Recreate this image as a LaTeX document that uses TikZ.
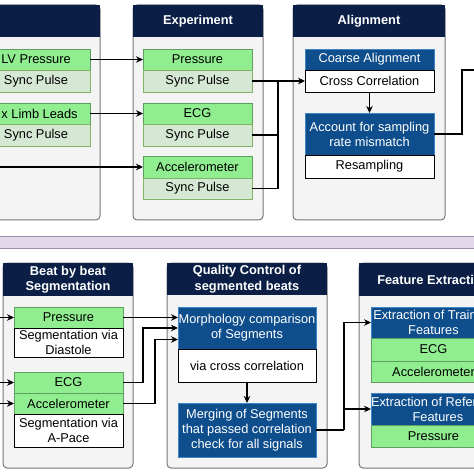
\documentclass[tikz,border=0pt]{standalone}
\usepackage{fontspec}
\setmainfont{Liberation Sans}
\usetikzlibrary{arrows.meta,calc}
\definecolor{navy}{HTML}{0A1E46}
\definecolor{bblue}{HTML}{0F4E8C}
\definecolor{bborder}{HTML}{3E86C6}
\definecolor{lgreen}{HTML}{90EE90}
\definecolor{dgreen}{HTML}{5E9E5E}
\definecolor{sgreen}{HTML}{D5E8D4}
\definecolor{sborder}{HTML}{82B366}
\definecolor{pfill}{HTML}{F4F4F4}
\definecolor{pborder}{HTML}{777777}
\definecolor{lav}{HTML}{E3D7EA}
\definecolor{lavb}{HTML}{A08CB0}
\tikzset{
  base/.style={inner sep=0pt, outer sep=0pt, align=center, anchor=north west,
    font=\fontsize{12.85pt}{15pt}\selectfont},
  panel/.style={base, draw=pborder, fill=pfill, line width=1bp, rounded corners=4bp},
  hdr/.style={base, fill=navy, text=white, font=\fontsize{12.85pt}{15.5pt}\selectfont\bfseries},
  gbox/.style={base, fill=lgreen, draw=dgreen, line width=0.8bp},
  sbox/.style={base, fill=sgreen, draw=sborder, line width=0.8bp},
  bbox/.style={base, fill=bblue, draw=bborder, line width=0.8bp, text=white},
  wbox/.style={base, fill=white, draw=black, line width=0.8bp},
  conn/.style={line width=1.1bp, draw=black},
  arr/.style={conn, -{Stealth[length=7bp,width=6.5bp]}},
}
% box: style, name, x1, y1, x2, y2, text
\newcommand{\bx}[7]{\node[#1, minimum width={(#5)*1bp-(#3)*1bp}, minimum height={(#6)*1bp-(#4)*1bp}] (#2) at (#3,#4) {#7};}
\begin{document}
\begin{tikzpicture}[x=1bp,y=-1bp]
\useasboundingbox (0,0) rectangle (474,474);
\clip (0,0) rectangle (474,474);
% ---------- top row ----------
\bx{panel}{p1}{-40}{5}{100}{220}{}
\bx{hdr}{h1}{-40}{5}{100}{37}{}
\bx{gbox}{lvp}{-18}{49}{90}{70}{LV Pressure}
\bx{sbox}{lvs}{-18}{70}{90}{92}{Sync Pulse}
\bx{gbox}{limb}{-18}{103}{90}{124}{\phantom{6}x Limb Leads}
\bx{sbox}{limbs}{-18}{124}{90}{146}{Sync Pulse}

\bx{panel}{p2}{133}{5}{263}{220}{}
\bx{hdr}{h2}{133}{5}{263}{37}{Experiment}
\bx{gbox}{epr}{143}{49}{252}{70}{Pressure}
\bx{sbox}{eprs}{143}{70}{252}{92}{Sync Pulse}
\bx{gbox}{eecg}{143}{103}{252}{124}{ECG}
\bx{sbox}{eecgs}{143}{124}{252}{146}{Sync Pulse}
\bx{gbox}{eacc}{143}{156}{252}{178}{Accelerometer}
\bx{sbox}{eaccs}{143}{178}{252}{199}{Sync Pulse}

\bx{panel}{p3}{293}{5}{445}{220}{}
\bx{hdr}{h3}{293}{5}{445}{37}{Alignment}
\bx{bbox}{coarse}{305}{49}{434}{70}{Coarse Alignment}
\bx{wbox}{cc}{305}{70}{434}{92}{Cross Correlation}
\bx{bbox}{acct}{305}{113}{434}{155}{Account for sampling\\rate mismatch}
\bx{wbox}{resam}{305}{155}{434}{178}{Resampling}

\coordinate (in3) at (-2,167);
\coordinate (j1) at (278,81);
\coordinate (j3) at (462,70);
\coordinate (out) at (478,70);
\draw[arr] (lvp.east) -- (epr.west);
\draw[arr] (limb.east) -- (eecg.west);
\draw[arr] (in3) -- (eacc.west);
\draw[arr] (eprs.east) -- (eprs.east -| cc.west);
\draw[conn] (eecgs.east) -| (j1);
\draw[conn] (eaccs.east) -| (j1);
\draw[arr] (cc.south) -- (acct.north);
\draw[conn] (acct.east) -| (j3) -- (out);

% ---------- separator ----------
\fill[lav] (-5,236) rectangle (480,248);
\draw[lavb, line width=1bp] (-5,236) -- (480,236) (-5,248) -- (480,248);

% ---------- bottom row ----------
\bx{panel}{p4}{3}{263}{133}{468}{}
\bx{hdr}{h4}{3}{263}{133}{296}{Beat by beat\\Segmentation}
\bx{gbox}{spr}{14}{307}{123}{328}{Pressure}
\bx{wbox}{sdia}{14}{328}{123}{357}{Segmentation via\\Diastole}
\bx{gbox}{secg}{14}{372}{123}{393}{ECG}
\bx{gbox}{sacc}{14}{393}{123}{414}{Accelerometer}
\bx{wbox}{sap}{14}{414}{123}{447}{Segmentation via\\A-Pace}

\bx{panel}{p5}{167}{263}{327}{468}{}
\bx{hdr}{h5}{167}{263}{327}{295}{Quality Control of\\segmented beats}
\bx{bbox}{morph}{178}{307}{316}{349}{Morphology comparison\\of Segments}
\bx{wbox}{vcc}{178}{349}{316}{382}{via cross correlation}
\bx{bbox}{merge}{178}{403}{316}{457}{Merging of Segments\\that passed correlation\\check for all signals}

\bx{panel}{p6}{359}{263}{508}{468}{}
\bx{hdr}{h6}{359}{263}{508}{296}{Feature Extracti\phantom{on}}
\bx{bbox}{train}{371}{307}{496}{338}{Extraction of Train\phantom{ing}\\Features}
\bx{gbox}{fecg}{371}{338}{496}{361}{ECG}
\bx{gbox}{facc}{371}{361}{496}{382}{Accelerometer}
\bx{bbox}{ref}{371}{393}{496}{425}{Extraction of Refere\phantom{nce}\\Features}
\bx{gbox}{fpr}{371}{425}{496}{447}{Pressure}

\coordinate (b1) at (-2,317.5);
\coordinate (b2) at (-2,382.5);
\coordinate (b3) at (-2,403.5);
\coordinate (k1) at (143,328);
\coordinate (k2) at (155,339.5);
\coordinate (j2) at (344,430);
\draw[arr] (b1) -- (spr.west);
\draw[arr] (b2) -- (secg.west);
\draw[arr] (b3) -- (sacc.west);
\draw[arr] (spr.east) -- (spr.east -| morph.west);
\draw[arr] (secg.east) -| (k1) -- (k1 -| morph.west);
\draw[arr] (sacc.east) -| (k2) -- (k2 -| morph.west);
\draw[arr] (vcc.south) -- (merge.north);
\draw[conn] (merge.east |- j2) -- (j2);
\draw[arr] (j2) |- (train.west);
\draw[arr] (j2) |- (ref.west);
\end{tikzpicture}
\end{document}
